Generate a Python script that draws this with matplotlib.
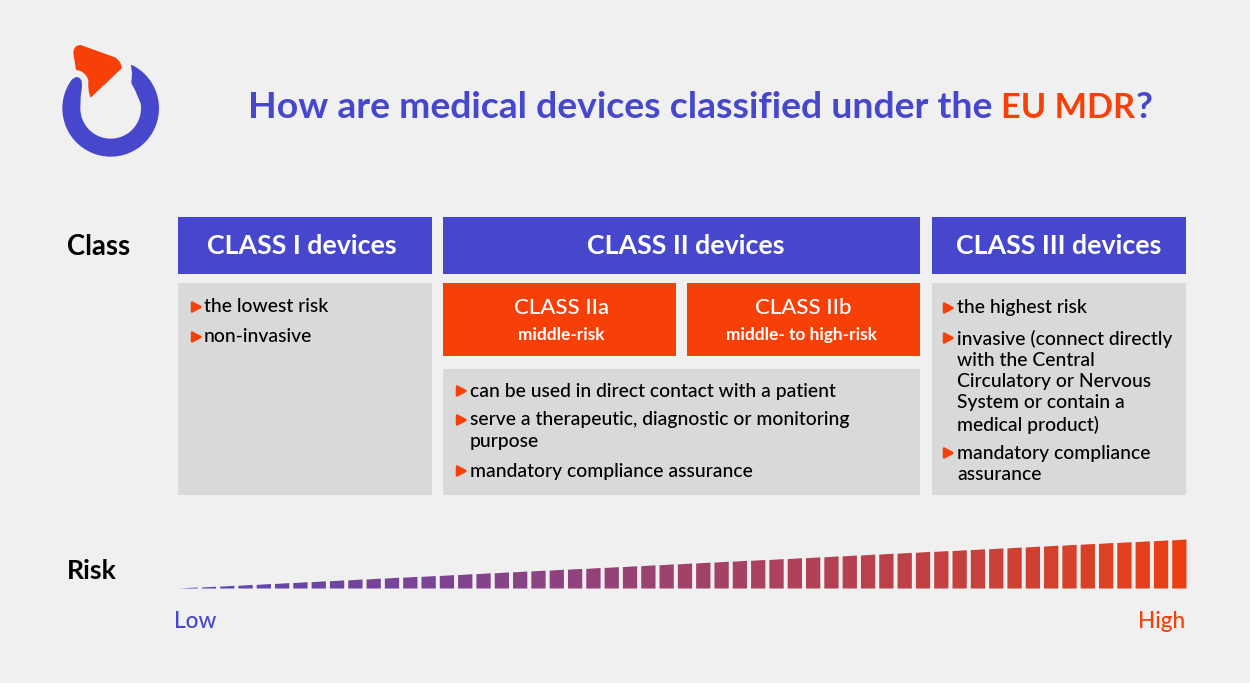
import numpy as np
import matplotlib
matplotlib.use('Agg')
import matplotlib.pyplot as plt
from matplotlib.colors import LinearSegmentedColormap
from matplotlib.patches import Rectangle, Polygon, PathPatch
from matplotlib.path import Path

BLUE = '#4747CD'
ORANGE = '#F74008'
GREY = '#D9D9D9'
BG = '#F0F0F0'

class_titles = ['CLASS I devices', 'CLASS II devices', 'CLASS III devices']
sub_titles = ['CLASS IIa', 'CLASS IIb']
sub_notes = ['middle-risk', 'middle- to high-risk']
class1_items = ['the lowest risk', 'non-invasive']
class2_items = ['can be used in direct contact with a patient',
                'serve a therapeutic, diagnostic or monitoring\npurpose',
                'mandatory compliance assurance']
class3_items = ['the highest risk',
                'invasive (connect directly\nwith the Central\nCirculatory or Nervous\nSystem or contain a\nmedical product)',
                'mandatory compliance\nassurance']
risk_heights = [1.0, 1.8, 2.7, 3.6, 4.5, 5.4, 6.3, 7.2, 8.1, 9.0, 9.9, 10.8, 11.6, 12.5,
                13.4, 14.3, 15.2, 16.1, 17.0, 17.9, 18.8, 19.6, 20.5, 21.4, 22.3, 23.2,
                24.1, 25.0, 25.9, 26.8, 27.7, 28.5, 29.4, 30.3, 31.2, 32.1, 33.0, 33.9,
                34.8, 35.7, 36.6, 37.4, 38.3, 39.2, 40.1, 41.0, 41.9, 42.8, 43.7, 44.6,
                45.5, 46.3, 47.2, 48.1, 49.0]

W, H = 1250, 683
plt.rcParams['font.family'] = 'Lato'

fig = plt.figure(figsize=(W / 100, H / 100), dpi=100, facecolor=BG)
ax = fig.add_axes([0, 0, 1, 1])
ax.set_xlim(0, W)
ax.set_ylim(H, 0)
ax.axis('off')


def box(x0, y0, x1, y1, color):
    ax.add_patch(Rectangle((x0, y0), x1 - x0, y1 - y0, fc=color, ec='none'))


def bullet(x, y):
    ax.add_patch(Polygon([(x, y - 4.5), (x + 8.5, y), (x, y + 4.5)], closed=True, fc=ORANGE,
                         ec=ORANGE, lw=1.8, joinstyle='round'))


def bullets(items, x_bul, x_txt, ys):
    for item, y in zip(items, ys):
        bullet(x_bul, y + 1)
        ax.text(x_txt, y - 7.5, item, fontsize=13.85, color='black', va='top', ha='left',
                linespacing=1.3, fontweight='medium')


# logo, coordinates from the 3x crop
def z(pts):
    return [(x / 3 + 40, y / 3 + 30) for x, y in pts]


cx, cy = 212, 235
a_out = np.radians(np.linspace(-64, 217, 70))
a_in = np.radians(np.linspace(180, -10, 50))
outer = [(cx + 145 * np.cos(a), cy + 145 * np.sin(a)) for a in a_out]
inner = [(cx + 91 * np.cos(a), cy + 91 * np.sin(a)) for a in a_in]
tip = [(108, 141), (118, 143), (125, 152), (126, 170), (122, 200)]
ring = [(273, 107)] + outer + tip + inner + [(285, 180), (274, 160), (276, 130)]
ax.add_patch(Polygon(z(ring), closed=True, fc=BLUE, ec='none'))

verts = z([(122, 45), (225, 82), (245, 95), (245, 115), (152, 203), (143, 185), (145, 150),
           (135, 122), (108, 120), (100, 70), (100, 45), (122, 45)])
codes = [Path.MOVETO, Path.LINETO, Path.CURVE3, Path.CURVE3, Path.LINETO, Path.CURVE3, Path.CURVE3,
         Path.CURVE3, Path.CURVE3, Path.LINETO, Path.CURVE3, Path.CURVE3]
ax.add_patch(PathPatch(Path(verts, codes), fc=ORANGE, ec='none'))

# title
ax.text(248, 108, 'How are medical devices classified under the', fontsize=26.9, fontweight='bold',
        color=BLUE, va='center', ha='left')
ax.text(1001, 108, 'EU MDR', fontsize=24.7, fontweight='bold', color=ORANGE, va='center', ha='left')
ax.text(1136, 108, '?', fontsize=26.5, fontweight='bold', color=BLUE, va='center', ha='left')

# row labels
ax.text(67, 247, 'Class', fontsize=19.8, fontweight='bold', color='black', va='center')
ax.text(67, 571, 'Risk', fontsize=19.2, fontweight='bold', color='black', va='center')

# header boxes
headers = [(178, 432), (443, 920), (932, 1186)]
title_centres = [302, 685.5, 1058.5]
for (x0, x1), title, xc in zip(headers, class_titles, title_centres):
    box(x0, 217, x1, 274, BLUE)
    ax.text(xc, 246, title, fontsize=19.3, fontweight='bold', color='white', ha='center', va='center')

# grey panels
box(178, 283, 432, 495, GREY)
box(443, 369, 920, 495, GREY)
box(932, 283, 1186, 495, GREY)

# class II sub boxes
sub_centres = [561.5, 803.5]
note_centres = [561.5, 801]
for (x0, x1), title, note, xs, xn in zip([(443, 676), (687, 920)], sub_titles, sub_notes, sub_centres, note_centres):
    box(x0, 283, x1, 356, ORANGE)
    ax.text(xs, 308, title, fontsize=16, color='white', ha='center', va='center', fontweight='medium')
    ax.text(xn, 335, note, fontsize=12.4, color='white', ha='center', va='center', fontweight='bold')

bullets(class1_items, 192, 204, [306, 336])
bullets(class2_items, 457, 470, [390, 419, 470])
bullets(class3_items, 944, 957, [307, 337, 452])

# risk scale
risk_levels = np.arange(len(risk_heights))
bar_half = 0.39
cmap = LinearSegmentedColormap.from_list('risk', [(0, '#5A45B8'), (0.72, '#BE4048'),
                                                  (0.86, '#D14030'), (1, '#EB3F13')])
rax = fig.add_axes([178 / W, 1 - 588 / H, (1186 - 178) / W, 49 / H])
rax.set_xlim(-0.66, 54.39)
rax.set_ylim(0, 49)
rax.axis('off')
for level, height in zip(risk_levels, risk_heights):
    left = -0.66 if level == 0 else level - bar_half
    prev = 0 if level == 0 else risk_heights[level - 1]
    rax.fill_between([left, level + bar_half], [0, 0], [prev, height],
                     color=cmap(level / risk_levels[-1]), lw=0, clip_on=False)

ax.text(174, 622, 'Low', fontsize=16.3, color=BLUE, va='center', ha='left', fontweight='medium')
ax.text(1185, 622, 'High', fontsize=16.3, color=ORANGE, va='center', ha='right', fontweight='medium')

fig.savefig('out.png', dpi=100, facecolor=BG)
